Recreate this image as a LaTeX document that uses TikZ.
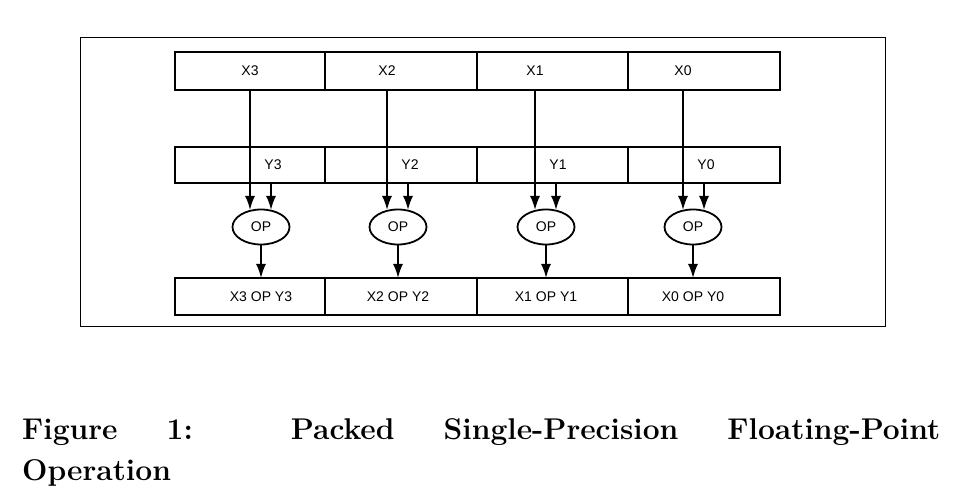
\documentclass[tikz,border=0pt]{standalone}
\usetikzlibrary{shapes.geometric,arrows.meta}
\usepackage{fontspec}
\newfontfamily\diag{Liberation Sans}
\begin{document}
\begin{tikzpicture}[x=1pt,y=-1pt,
  op/.style={draw,ellipse,line width=1.8pt,minimum width=57pt,minimum height=35pt,inner sep=0pt,font=\diag\fontsize{14}{16}\selectfont},
  lab/.style={font=\diag\fontsize{14}{16}\selectfont,inner sep=0pt},
  arr/.style={line width=1.8pt,-{Latex[length=14pt,width=10pt]}}]
\useasboundingbox (0,0) rectangle (960,502);
\node[draw,line width=1.2pt,minimum width=805pt,minimum height=289pt,anchor=north west,inner sep=0pt] (frame) at (80,37) {};
\foreach \i/\xa/\xb in {3/175/325,2/325/477,1/477/628,0/628/780}{
  \draw[line width=1.6pt] (\xa,52) rectangle (\xb,90);
  \draw[line width=1.6pt] (\xa,147) rectangle (\xb,183);
  \draw[line width=1.6pt] (\xa,278) rectangle (\xb,315);
}
\foreach \i/\xx/\yy/\oo in {3/250/271/261,2/387/408/398,1/535/556/546,0/683/704/693}{
  \node[lab] (x\i) at (\xx,71) {X\i};
  \node[lab] (y\i) at (\yy+2,165) {Y\i};
  \node[op] (op\i) at (\oo,227) {OP};
  \node[lab] (r\i) at (\oo,297) {X\i{} OP Y\i};
  \coordinate (xs\i) at (\xx,90);
  \coordinate (ys\i) at (\yy,183);
  \coordinate (rt\i) at (\oo,278);
  \draw[arr] (xs\i) -- (\xx,210);
  \draw[arr] (ys\i) -- (\yy,210);
  \draw[arr] (op\i.south) -- (rt\i);
}
\node[anchor=north west,inner sep=0pt,text width=918pt,align=justify,font=\bfseries\fontsize{30}{41}\selectfont] (cap) at (22,418)
 {Figure 1:\ \ Packed Single-Precision Floating-Point\linebreak Operation};
\end{tikzpicture}
\end{document}
